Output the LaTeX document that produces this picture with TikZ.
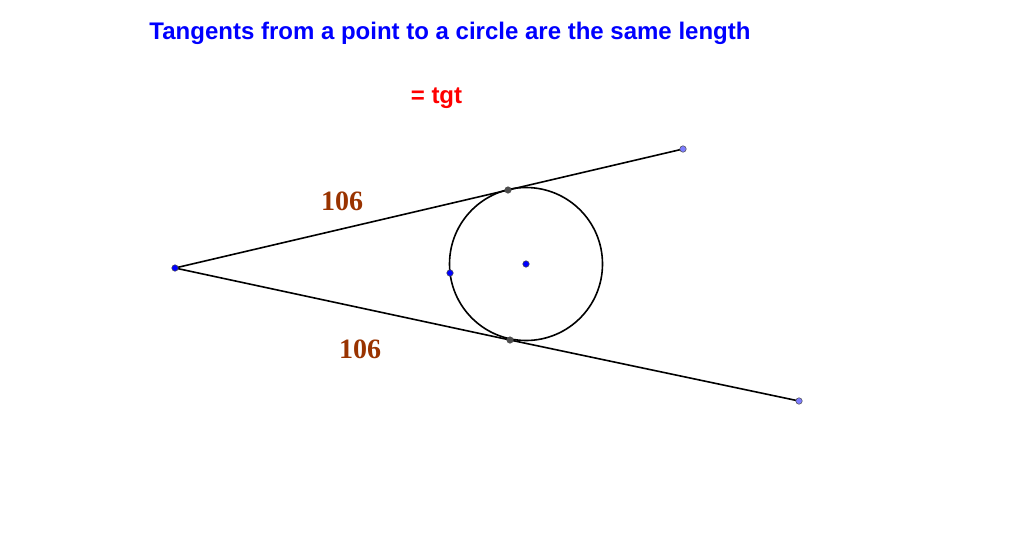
\documentclass[tikz,border=0pt]{standalone}
\usepackage{fontspec}
\setmainfont{Liberation Serif}
\setsansfont{Liberation Sans}
\definecolor{titleblue}{RGB}{0,0,255}
\definecolor{numbrown}{RGB}{153,51,0}
\definecolor{ptblue}{RGB}{0,0,255}
\definecolor{ptlight}{RGB}{125,125,255}
\definecolor{ptgray}{RGB}{77,77,77}
\tikzset{
    dotpt/.style={circle, draw=black!70, line width=0.5pt, inner sep=0pt, minimum size=6.5pt},
    tline/.style={line width=1.6pt}
}
\begin{document}
\begin{tikzpicture}[x=1pt,y=-1pt]
    \useasboundingbox (0,0) rectangle (1024,533);
    % titolo e testo
    \node[titleblue, font=\sffamily\bfseries\fontsize{24}{28}\selectfont] (title) at (450,33) {Tangents from a point to a circle are the same length};
    \node[red, font=\sffamily\bfseries\fontsize{24}{28}\selectfont] (tgt) at (436.5,98) {= tgt};

    % punti
    \coordinate (P) at (175,268);
    \coordinate (C) at (526,264);
    \coordinate (T1) at (508,190);
    \coordinate (T2) at (510,340);
    \coordinate (E1) at (683,149);
    \coordinate (E2) at (799,401);
    \coordinate (Q) at (450,273);

    % circonferenza e tangenti
    \draw[tline] (C) circle (76.5);
    \draw[tline] (P) -- (T1) -- (E1);
    \draw[tline] (P) -- (T2) -- (E2);

    % lunghezze
    \node[numbrown, font=\bfseries\fontsize{28}{32}\selectfont] (len1) at (342,201) {106};
    \node[numbrown, font=\bfseries\fontsize{28}{32}\selectfont] (len2) at (360,349) {106};

    % segna i punti
    \node[dotpt, fill=ptblue] at (P) {};
    \node[dotpt, fill=ptblue] at (C) {};
    \node[dotpt, fill=ptblue] at (Q) {};
    \node[dotpt, fill=ptgray] at (T1) {};
    \node[dotpt, fill=ptgray] at (T2) {};
    \node[dotpt, fill=ptlight] at (E1) {};
    \node[dotpt, fill=ptlight] at (E2) {};
\end{tikzpicture}
\end{document}
